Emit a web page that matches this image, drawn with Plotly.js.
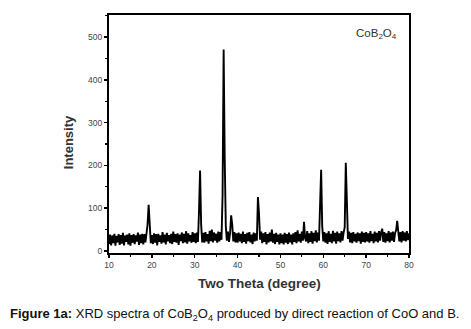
<!DOCTYPE html>
<html>
<head>
<meta charset="utf-8">
<script src="https://cdn.plot.ly/plotly-3.0.1.min.js"></script>
<style>html,body{margin:0;padding:0;background:#fff;}#chart{width:471px;height:329px;}</style>
</head>
<body>
<div id="chart"></div>
<script>
// XRD pattern of CoB2O4, sampled every 0.25 degree from 10 to 80 (2-theta)
const twoThetaStart = 10;
const twoThetaStep = 0.25;

const intensity10to20 = [
  16, 38, 13, 36, 18, 40, 12, 35, 20, 39,
  14, 37, 17, 42, 13, 36, 21, 38, 15, 41,
  12, 37, 19, 39, 16, 36, 22, 43, 14, 38,
  18, 40, 15, 39, 20, 44, 62, 108, 46, 18
];
const intensity20to30 = [
  37, 16, 41, 19, 39, 13, 40, 21, 36, 17,
  44, 20, 38, 15, 42, 22, 37, 18, 40, 16,
  45, 21, 39, 19, 41, 14, 38, 23, 43, 18,
  40, 20, 46, 17, 41, 22, 37, 19, 44, 21
];
const intensity30to40 = [
  41, 18, 43, 21, 92, 188, 62, 20, 42, 19,
  44, 22, 39, 17, 47, 23, 50, 20, 43, 24,
  40, 19, 45, 22, 44, 26, 130, 471, 218, 58,
  24, 45, 21, 42, 83, 62, 22, 44, 20, 41
];
const intensity40to50 = [
  19, 43, 22, 40, 18, 45, 21, 39, 17, 42,
  23, 44, 20, 38, 16, 43, 22, 41, 24, 126,
  88, 26, 45, 18, 41, 21, 44, 15, 39, 20,
  43, 22, 50, 19, 40, 16, 42, 21, 38, 15
];
const intensity50to60 = [
  41, 18, 38, 15, 42, 19, 39, 16, 43, 20,
  38, 15, 41, 21, 44, 18, 48, 22, 40, 19,
  45, 24, 68, 30, 22, 46, 18, 41, 21, 46,
  17, 42, 23, 48, 20, 43, 24, 115, 190, 58
];
const intensity60to70 = [
  22, 44, 19, 41, 16, 46, 21, 40, 18, 47,
  22, 42, 17, 45, 23, 41, 20, 46, 24, 43,
  55, 206, 125, 28, 45, 20, 42, 18, 44, 22,
  40, 19, 43, 23, 41, 17, 45, 21, 42, 20
];
const intensity70to80 = [
  44, 22, 41, 19, 46, 23, 40, 18, 45, 22,
  42, 20, 46, 24, 43, 52, 21, 44, 19, 41,
  23, 46, 20, 43, 24, 45, 21, 42, 48, 70,
  45, 22, 44, 20, 46, 24, 43, 22, 46, 25,
  41
];

const intensity = [].concat(intensity10to20, intensity20to30, intensity30to40,
  intensity40to50, intensity50to60, intensity60to70, intensity70to80);

const xTickValues = [10, 20, 30, 40, 50, 60, 70, 80];
const yTickValues = [0, 100, 200, 300, 400, 500];

const trace = {
  type: 'scatter',
  mode: 'lines',
  x0: twoThetaStart,
  dx: twoThetaStep,
  y: intensity,
  line: {color: '#000', width: 1.9},
  hoverinfo: 'skip'
};

const font = 'Arial, "Liberation Sans", sans-serif';

const layout = {
  width: 471,
  height: 329,
  margin: {l: 109, r: 62, t: 15, b: 76, pad: 0},
  paper_bgcolor: '#fff',
  plot_bgcolor: '#fff',
  showlegend: false,
  font: {family: font, color: '#333'},
  xaxis: {
    range: [10, 80],
    tickvals: xTickValues,
    ticktext: xTickValues.map(String),
    ticks: 'outside', ticklen: 3, tickwidth: 1.5, tickcolor: '#000',
    minor: {ticks: 'outside', dtick: 5, ticklen: 2, tickwidth: 1.2, tickcolor: '#000'},
    showline: true, linecolor: '#000', linewidth: 2, mirror: true,
    showgrid: false, zeroline: false,
    tickfont: {family: font, size: 8.5, color: '#444'}
  },
  yaxis: {
    range: [-5, 552],
    tickvals: yTickValues,
    ticktext: yTickValues.map(String),
    ticks: 'outside', ticklen: 3, tickwidth: 1.5, tickcolor: '#000',
    minor: {ticks: 'outside', dtick: 50, ticklen: 2, tickwidth: 1.2, tickcolor: '#000'},
    showline: true, linecolor: '#000', linewidth: 2, mirror: true,
    showgrid: false, zeroline: false,
    tickfont: {family: font, size: 8.5, color: '#444'}
  },
  annotations: [
    {
      text: 'CoB<sub>2</sub>O<sub>4</sub>',
      xref: 'paper', yref: 'paper', x: 0.89, y: 0.92,
      xanchor: 'center', yanchor: 'middle', showarrow: false,
      font: {family: font, size: 11.5, color: '#333'}
    },
    {
      text: '<b>Two Theta (degree)</b>',
      xref: 'paper', yref: 'paper', x: 0.5, y: -0.13,
      xanchor: 'center', yanchor: 'middle', showarrow: false,
      font: {family: font, size: 13.5, color: '#333'}
    },
    {
      text: '<b>Intensity</b>',
      xref: 'paper', yref: 'paper', x: -0.137, y: 0.465, textangle: -90,
      xanchor: 'center', yanchor: 'middle', showarrow: false,
      font: {family: font, size: 13, color: '#333'}
    },
    {
      text: '<b>Figure 1a:</b> XRD spectra of CoB<sub>2</sub>O<sub>4</sub> produced by direct reaction of CoO and B.',
      xref: 'paper', yref: 'paper', x: -0.337, y: -0.26,
      xanchor: 'left', yanchor: 'middle', showarrow: false,
      font: {family: font, size: 13, color: '#111'}
    }
  ]
};

Plotly.newPlot('chart', [trace], layout, {staticPlot: true, displayModeBar: false});
</script>
</body>
</html>
